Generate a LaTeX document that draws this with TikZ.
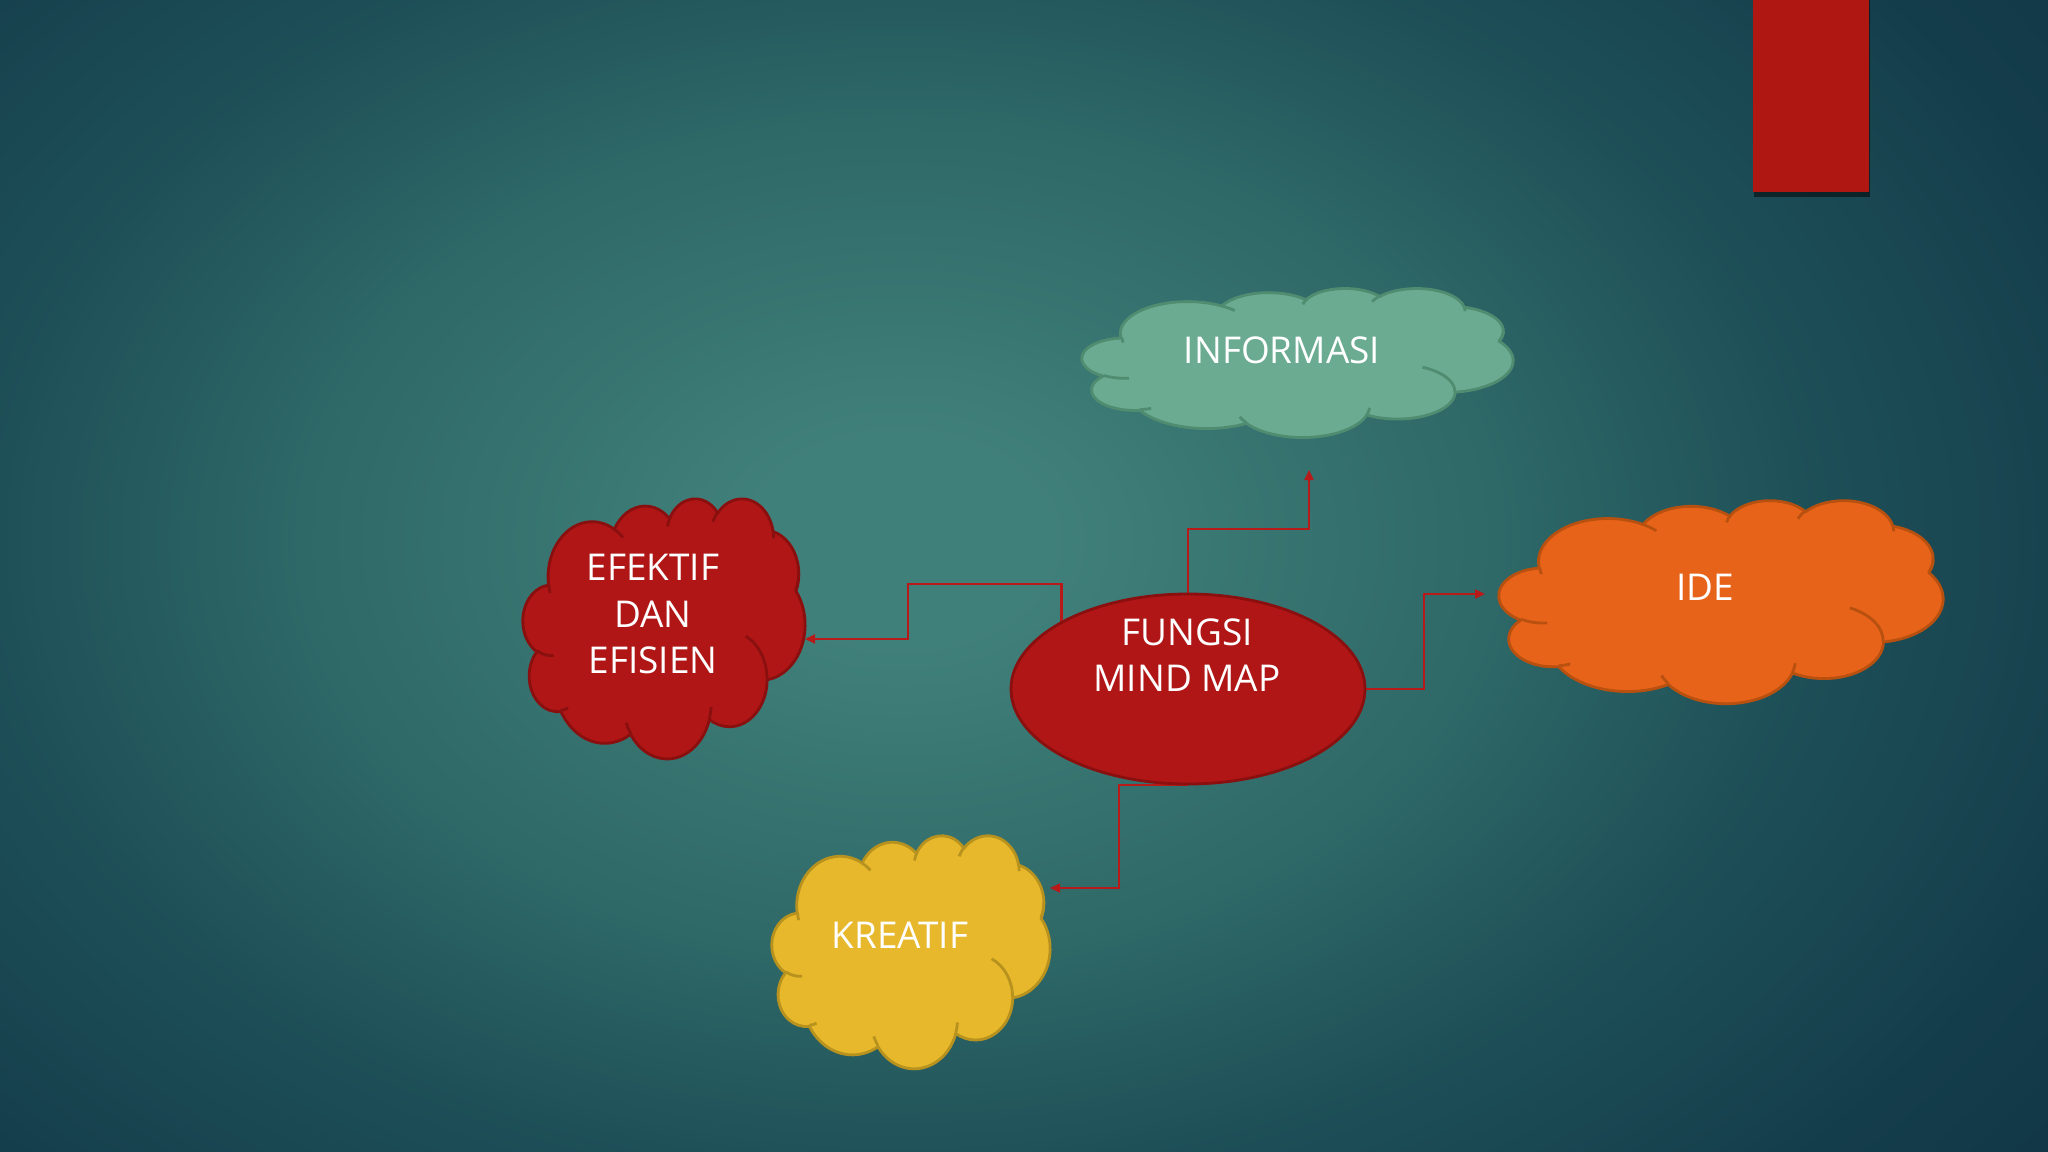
\documentclass[tikz,border=0pt]{standalone}
\usepackage{fontspec}
\setmainfont{Open Sans}
\usetikzlibrary{arrows.meta,shapes.geometric}
\definecolor{bgA}{HTML}{40807A}
\definecolor{bgM}{HTML}{2E6867}
\definecolor{bgB}{HTML}{1E5058}
\definecolor{bgD}{HTML}{143D4B}
\definecolor{bgC}{HTML}{113645}
\definecolor{barred}{HTML}{AF1812}
\definecolor{redfill}{HTML}{B01616}
\definecolor{reddraw}{HTML}{8A0F0F}
\definecolor{connred}{HTML}{B81A1A}
\definecolor{infofill}{HTML}{6AAB91}
\definecolor{infodraw}{HTML}{4F8C70}
\definecolor{idefill}{HTML}{E8631A}
\definecolor{idedraw}{HTML}{B8500F}
\definecolor{krefill}{HTML}{E7B82B}
\definecolor{kredraw}{HTML}{B8921E}
\pgfdeclareradialshading{bgshade}{\pgfpoint{0bp}{0bp}}{color(0bp)=(bgA); color(2.5bp)=(bgA); color(10bp)=(bgM); color(15bp)=(bgB); color(21bp)=(bgD); color(25bp)=(bgC); color(50bp)=(bgC)}
\tikzset{
  cloudstroke/.style={line width=0.8pt, line join=round},
  lbl/.style={text=white, font=\fontsize{10.5}{13.1}\selectfont, align=center, inner sep=0pt},
  conn/.style={draw=connred, line width=0.22mm, -{Triangle[length=1.0mm,width=0.9mm]}},
}
\newcommand{\drawcloud}[6]{%
\begin{scope}[shift={(#1,#2)}, xscale=#3/43.2, yscale=#4/43.2]
  \filldraw[fill=#5, draw=#6, cloudstroke] (3.900,14.370)
    arc[start angle=-187.75, delta angle=128.12, x radius=6.753, y radius=9.190]
    arc[start angle=-152.02, delta angle=106.57, x radius=5.333, y radius=7.267]
    arc[start angle=-153.48, delta angle=116.15, x radius=4.365, y radius=5.945]
    arc[start angle=-139.72, delta angle=129.51, x radius=4.857, y radius=6.595]
    arc[start angle=-74.77, delta angle=97.98, x radius=5.333, y radius=7.273]
    arc[start angle=-37.52, delta angle=119.38, x radius=6.775, y radius=9.220]
    arc[start angle=0.46, delta angle=121.51, x radius=5.785, y radius=7.867]
    arc[start angle=16.84, delta angle=129.41, x radius=6.752, y radius=9.215]
    arc[start angle=59.03, delta angle=91.14, x radius=7.720, y radius=10.543]
    arc[start angle=83.30, delta angle=139.79, x radius=4.360, y radius=5.918]
    arc[start angle=120.38, delta angle=143.73, x radius=4.345, y radius=5.945]
    -- cycle;
  \draw[draw=#6, cloudstroke]
    (4.693,26.177) arc[start angle=85.54, delta angle=34.84, x radius=4.345, y radius=5.945]
    (6.928,34.899) arc[start angle=68.26, delta angle=15.04, x radius=4.360, y radius=5.918]
    (16.478,39.090) arc[start angle=146.25, delta angle=12.23, x radius=6.752, y radius=9.215]
    (28.827,34.751) arc[start angle=4.74, delta angle=12.10, x radius=6.752, y radius=9.215]
    (34.129,22.954) arc[start angle=-64.01, delta angle=64.47, x radius=5.785, y radius=7.867]
    (41.798,15.354) arc[start angle=23.21, delta angle=-23.21, x radius=5.333, y radius=7.273]
    (38.324,5.426) arc[start angle=-10.21, delta angle=11.03, x radius=4.857, y radius=6.595]
    (29.078,3.952) arc[start angle=-156.28, delta angle=16.56, x radius=4.857, y radius=6.595]
    (22.141,4.720) arc[start angle=-167.72, delta angle=14.24, x radius=4.365, y radius=5.945]
    (14.000,5.192) arc[start angle=-59.63, delta angle=13.90, x radius=6.753, y radius=9.190]
    (4.127,15.789) arc[start angle=166.60, delta angle=8.91, x radius=6.753, y radius=9.190];
\end{scope}}
\begin{document}
\begin{tikzpicture}[x=0.01cm, y=-0.01cm]
\useasboundingbox (0,0) rectangle (2048,1152);
% background
\begin{scope}
  \clip (0,0) rectangle (2048,1152);
  \shade[shading=bgshade] (-600,-510) rectangle (2400,1590);
\end{scope}
% red bar with shadow
\fill[black, opacity=0.5] (1754,0) rectangle (1870,197);
\fill[barred] (1753,0) rectangle (1869,192);
% central node
\node[ellipse, minimum width=3.54cm, minimum height=1.90cm, inner sep=0pt] (c) at (1188,689) {};
% connector ends
\coordinate (itip) at (1309,470);
\coordinate (etip) at (805,639);
\coordinate (lmid) at (908,584);
\coordinate (rmid) at (1424,594);
\coordinate (idetip) at (1485,594);
\coordinate (bmid) at (1119,888);
\coordinate (ktip) at (1050,888);
% connectors
\draw[conn] (c.north) -- ++(0,-64) -| (itip);
\draw[conn] (c.152) |- (lmid) |- (etip);
\draw[conn] (c.east) -| (rmid) -- (idetip);
\draw[conn] (c.south) -| (bmid) -- (ktip);
% clouds
\drawcloud{1082}{288}{431}{149}{infofill}{infodraw}
\drawcloud{523}{498}{282}{260}{redfill}{reddraw}
\drawcloud{1499}{500}{444}{203}{idefill}{idedraw}
\drawcloud{772}{835}{278}{233}{krefill}{kredraw}
% ellipse drawn on top
\draw[fill=redfill, draw=reddraw, line width=0.8pt] (c.center) ellipse [x radius=177, y radius=95];
% labels
\node[lbl] (ct) at (1187,655) {FUNGSI\\MIND MAP};
\node[lbl] (inf) at (1282,350) {INFORMASI};
\node[lbl] (efk) at (653,614) {EFEKTIF\\DAN\\EFISIEN};
\node[lbl] (ide) at (1705,587) {IDE};
\node[lbl] (kre) at (900,935) {KREATIF};
\end{tikzpicture}
\end{document}
